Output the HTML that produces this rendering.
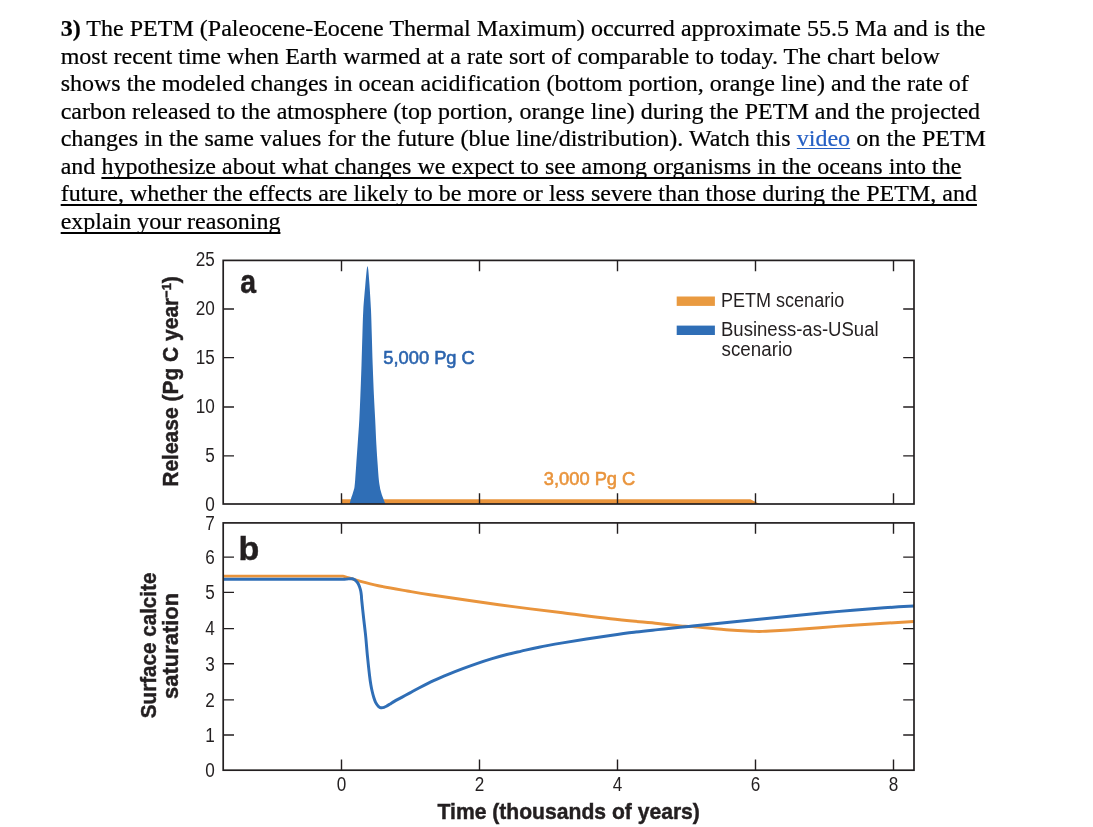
<!DOCTYPE html>
<html><head><meta charset="utf-8"><title>PETM question</title>
<style>
html,body{margin:0;padding:0;background:#fff;}
body{width:1093px;height:827px;position:relative;overflow:hidden;font-family:"Liberation Serif",serif;}
.ln{position:absolute;left:60.7px;white-space:nowrap;-webkit-text-stroke-width:0.22px;font-size:24.0px;line-height:28.0px;height:28.0px;color:#000;}
.u{text-decoration:underline;text-decoration-thickness:1.7px;text-underline-offset:3px;text-decoration-skip-ink:none;}
.lk{color:#2660c4;text-decoration:underline;text-decoration-thickness:1.3px;text-underline-offset:2.3px;text-decoration-skip-ink:none;}
#para{position:absolute;left:0;top:0;width:1093px;height:245px;will-change:transform;}
svg{position:absolute;left:0;top:0;will-change:transform;}
svg text{font-family:"Liberation Sans",sans-serif;fill:#231f20;}
.n{font-size:19.7px;}
.lg{font-size:19.6px;}
.an{font-size:18.8px;font-weight:normal;stroke-width:0.6px;}
.pl{font-size:34px;font-weight:bold;stroke:#231f20;stroke-width:0.5px;}
.at{font-size:22.2px;font-weight:bold;stroke:#231f20;stroke-width:0.45px;}
</style></head>
<body>
<div id="para">
<div class="ln" style="top:14px;word-spacing:0.100px"><b>3)</b> The PETM (Paleocene-Eocene Thermal Maximum) occurred approximate 55.5 Ma and is the</div>
<div class="ln" style="top:42px;word-spacing:0.131px">most recent time when Earth warmed at a rate sort of comparable to today. The chart below</div>
<div class="ln" style="top:69px;word-spacing:-0.014px">shows the modeled changes in ocean acidification (bottom portion, orange line) and the rate of</div>
<div class="ln" style="top:97px;word-spacing:0.029px">carbon released to the atmosphere (top portion, orange line) during the PETM and the projected</div>
<div class="ln" style="top:124px;word-spacing:0.167px">changes in the same values for the future (blue line/distribution). Watch this <span class="lk">video</span> on the PETM</div>
<div class="ln" style="top:152px;word-spacing:0.047px">and <span class="u">hypothesize about what changes we expect to see among organisms in the oceans into the</span></div>
<div class="ln" style="top:179px;word-spacing:0.018px"><span class="u">future, whether the effects are likely to be more or less severe than those during the PETM, and</span></div>
<div class="ln" style="top:207px;word-spacing:-0.100px"><span class="u">explain your reasoning</span></div>
</div>
<svg width="1093" height="827" viewBox="0 0 1093 827">
<path d="M341.5,504.0 L341.5,499.2 L750.4,499.2 L759.5,504.0 Z" fill="#e9943c"/>
<path d="M349.6,504.0 C349.87,503.00 350.72,499.62 351.2,498.0 C351.68,496.38 352.07,495.63 352.5,494.3 C352.93,492.97 353.47,491.22 353.8,490.0 C354.13,488.78 354.27,488.73 354.5,487.0 C354.73,485.27 354.92,483.27 355.2,479.6 C355.48,475.93 355.80,470.77 356.2,465.0 C356.60,459.23 357.08,452.50 357.6,445.0 C358.12,437.50 358.83,428.33 359.3,420.0 C359.77,411.67 360.03,404.17 360.4,395.0 C360.77,385.83 361.17,375.00 361.5,365.0 C361.83,355.00 362.10,344.17 362.4,335.0 C362.70,325.83 362.82,318.33 363.3,310.0 C363.78,301.67 364.73,291.67 365.3,285.0 C365.87,278.33 366.33,273.17 366.7,270.0 C367.07,266.83 367.37,266.67 367.5,266.0 C367.63,266.67 367.97,266.83 368.3,270.0 C368.63,273.17 369.05,278.33 369.5,285.0 C369.95,291.67 370.62,301.67 371.0,310.0 C371.38,318.33 371.52,325.83 371.8,335.0 C372.08,344.17 372.35,355.00 372.7,365.0 C373.05,375.00 373.48,385.83 373.9,395.0 C374.32,404.17 374.78,411.67 375.2,420.0 C375.62,428.33 375.98,437.50 376.4,445.0 C376.82,452.50 377.30,459.23 377.7,465.0 C378.10,470.77 378.43,475.93 378.8,479.6 C379.17,483.27 379.62,485.27 379.9,487.0 C380.18,488.73 380.20,488.78 380.5,490.0 C380.80,491.22 381.27,492.97 381.7,494.3 C382.13,495.63 382.50,496.38 383.1,498.0 C383.70,499.62 384.93,503.00 385.3,504.0 Z" fill="#2f6eb6"/>
<path d="M223.2,576.1 C243.10,576.10 322.70,576.10 342.6,576.1 C343.08,576.22 342.77,576.00 345.5,576.8 C348.23,577.60 353.52,579.42 359.0,580.9 C364.48,582.38 370.33,584.02 378.4,585.7 C386.47,587.38 398.80,589.48 407.4,591.0 C416.00,592.52 419.97,593.27 430.0,594.8 C440.03,596.33 453.42,598.18 467.6,600.2 C481.78,602.22 499.25,604.80 515.1,606.9 C530.95,609.00 546.83,610.82 562.7,612.8 C578.57,614.78 594.43,617.02 610.3,618.8 C626.17,620.58 646.28,622.32 657.9,623.5 C669.52,624.68 674.22,625.38 680.0,625.9 C685.78,626.42 684.35,625.92 692.6,626.6 C700.85,627.28 719.60,629.23 729.5,630.0 C739.40,630.77 747.05,630.95 752.0,631.2 C756.95,631.45 756.87,631.50 759.2,631.5 C761.53,631.50 761.05,631.45 766.0,631.2 C770.95,630.95 777.15,630.80 788.9,630.0 C800.65,629.20 820.63,627.52 836.5,626.4 C852.37,625.28 871.18,624.12 884.1,623.3 C897.02,622.48 909.02,621.80 914.0,621.5" fill="none" stroke="#e9943c" stroke-width="2.95" stroke-linejoin="round"/>
<path d="M223.2,579.3 C243.42,579.30 324.28,579.30 344.5,579.3 C344.92,579.25 346.13,579.10 347.0,579.0 C347.87,578.90 348.80,578.73 349.7,578.7 C350.60,578.67 351.58,578.62 352.4,578.8 C353.22,578.98 353.87,579.32 354.6,579.8 C355.33,580.28 356.15,580.97 356.8,581.7 C357.45,582.43 358.03,583.32 358.5,584.2 C358.97,585.08 359.23,585.90 359.6,587.0 C359.97,588.10 360.40,589.35 360.7,590.8 C361.00,592.25 361.23,594.17 361.4,595.7 C361.57,597.23 361.33,596.28 361.7,600.0 C362.07,603.72 363.05,613.00 363.6,618.0 C364.15,623.00 364.63,626.77 365.0,630.0 C365.37,633.23 365.38,632.95 365.8,637.4 C366.22,641.85 366.87,650.27 367.5,656.7 C368.13,663.13 369.05,671.37 369.6,676.0 C370.15,680.63 370.37,681.92 370.8,684.5 C371.23,687.08 371.70,689.33 372.2,691.5 C372.70,693.67 373.23,695.68 373.8,697.5 C374.37,699.32 374.82,700.88 375.6,702.4 C376.38,703.92 377.72,705.73 378.5,706.6 C379.28,707.47 379.75,707.40 380.3,707.6 C380.85,707.80 381.18,707.85 381.8,707.8 C382.42,707.75 383.23,707.55 384.0,707.3 C384.77,707.05 385.33,706.87 386.4,706.3 C387.47,705.73 389.08,704.72 390.4,703.9 C391.72,703.08 392.33,702.53 394.3,701.4 C396.27,700.27 399.58,698.52 402.2,697.1 C404.82,695.68 407.22,694.42 410.0,692.9 C412.78,691.38 414.97,690.05 418.9,688.0 C422.83,685.95 428.72,682.88 433.6,680.6 C438.48,678.32 443.33,676.30 448.2,674.3 C453.07,672.30 457.92,670.43 462.8,668.6 C467.68,666.77 472.62,664.97 477.5,663.3 C482.38,661.63 487.22,660.07 492.1,658.6 C496.98,657.13 501.92,655.75 506.8,654.5 C511.68,653.25 516.05,652.32 521.4,651.1 C526.75,649.88 532.02,648.57 538.9,647.2 C545.78,645.83 554.77,644.27 562.7,642.9 C570.63,641.53 578.57,640.23 586.5,639.0 C594.43,637.77 602.37,636.62 610.3,635.5 C618.23,634.38 626.17,633.28 634.1,632.3 C642.03,631.32 650.25,630.45 657.9,629.6 C665.55,628.75 674.22,627.80 680.0,627.2 C685.78,626.60 684.35,626.82 692.6,626.0 C700.85,625.18 713.45,623.93 729.5,622.3 C745.55,620.67 771.07,617.98 788.9,616.2 C806.73,614.42 820.63,613.00 836.5,611.6 C852.37,610.20 871.18,608.73 884.1,607.8 C897.02,606.87 909.02,606.30 914.0,606.0" fill="none" stroke="#2f6eb6" stroke-width="2.95" stroke-linejoin="round"/>
<rect x="223.2" y="260.4" width="690.8" height="243.6" fill="none" stroke="#231f20" stroke-width="1.7"/>
<rect x="223.2" y="522.9" width="690.8" height="247.3" fill="none" stroke="#231f20" stroke-width="1.7"/>
<path d="M341.5,260.4V271.2M341.5,504.0V493.2M341.5,522.9V533.7M341.5,770.2V759.4M479.5,260.4V271.2M479.5,504.0V493.2M479.5,522.9V533.7M479.5,770.2V759.4M617.5,260.4V271.2M617.5,504.0V493.2M617.5,522.9V533.7M617.5,770.2V759.4M755.5,260.4V271.2M755.5,504.0V493.2M755.5,522.9V533.7M755.5,770.2V759.4M893.5,260.4V271.2M893.5,504.0V493.2M893.5,522.9V533.7M893.5,770.2V759.4M223.2,455.9H234.0M914.0,455.9H903.2M223.2,407.0H234.0M914.0,407.0H903.2M223.2,357.6H234.0M914.0,357.6H903.2M223.2,309.0H234.0M914.0,309.0H903.2M223.2,735.0H234.0M914.0,735.0H903.2M223.2,699.9H234.0M914.0,699.9H903.2M223.2,663.8H234.0M914.0,663.8H903.2M223.2,628.6H234.0M914.0,628.6H903.2M223.2,592.4H234.0M914.0,592.4H903.2M223.2,557.1H234.0M914.0,557.1H903.2" stroke="#231f20" stroke-width="1.4" fill="none"/>
<rect x="676.7" y="296.5" width="38.2" height="9.4" fill="#e99a40"/>
<rect x="676.7" y="325.6" width="38.2" height="9.4" fill="#2f6eb6"/>
<text transform="translate(214.9,510.9) scale(0.87,1)" text-anchor="end" class="n">0</text>
<text transform="translate(214.9,461.9) scale(0.87,1)" text-anchor="end" class="n">5</text>
<text transform="translate(214.9,413.1) scale(0.87,1)" text-anchor="end" class="n">10</text>
<text transform="translate(214.9,364.2) scale(0.87,1)" text-anchor="end" class="n">15</text>
<text transform="translate(214.9,315.2) scale(0.87,1)" text-anchor="end" class="n">20</text>
<text transform="translate(214.9,266.4) scale(0.87,1)" text-anchor="end" class="n">25</text>
<text transform="translate(214.9,777.0) scale(0.87,1)" text-anchor="end" class="n">0</text>
<text transform="translate(214.9,741.8) scale(0.87,1)" text-anchor="end" class="n">1</text>
<text transform="translate(214.9,706.7) scale(0.87,1)" text-anchor="end" class="n">2</text>
<text transform="translate(214.9,670.6) scale(0.87,1)" text-anchor="end" class="n">3</text>
<text transform="translate(214.9,635.4) scale(0.87,1)" text-anchor="end" class="n">4</text>
<text transform="translate(214.9,599.2) scale(0.87,1)" text-anchor="end" class="n">5</text>
<text transform="translate(214.9,563.9) scale(0.87,1)" text-anchor="end" class="n">6</text>
<text transform="translate(214.9,529.7) scale(0.87,1)" text-anchor="end" class="n">7</text>
<text transform="translate(341.6,790.7) scale(0.87,1)" text-anchor="middle" class="n">0</text>
<text transform="translate(479.6,790.7) scale(0.87,1)" text-anchor="middle" class="n">2</text>
<text transform="translate(617.6,790.7) scale(0.87,1)" text-anchor="middle" class="n">4</text>
<text transform="translate(755.6,790.7) scale(0.87,1)" text-anchor="middle" class="n">6</text>
<text transform="translate(893.6,790.7) scale(0.87,1)" text-anchor="middle" class="n">8</text>
<text x="721.0" y="307" class="n lg" textLength="123.2" lengthAdjust="spacingAndGlyphs">PETM scenario</text>
<text x="721.0" y="336" class="n lg" textLength="157.6" lengthAdjust="spacingAndGlyphs">Business-as-USual</text>
<text x="721.6" y="356" class="n lg" textLength="70.9" lengthAdjust="spacingAndGlyphs">scenario</text>
<text x="383.3" y="364.3" class="an" style="fill:#2b64ae;stroke:#2b64ae" textLength="91.5" lengthAdjust="spacingAndGlyphs">5,000 Pg C</text>
<text x="543.8" y="484.6" class="an" style="fill:#e9943c;stroke:#e9943c" textLength="91.5" lengthAdjust="spacingAndGlyphs">3,000 Pg C</text>
<text x="240.3" y="293.0" class="pl" textLength="15.8" lengthAdjust="spacingAndGlyphs">a</text>
<text x="238.4" y="559.7" class="pl" textLength="20.8" lengthAdjust="spacingAndGlyphs">b</text>
<text x="437.5" y="818.9" class="at" textLength="262.4" lengthAdjust="spacingAndGlyphs">Time (thousands of years)</text>
<text transform="translate(178.0,486.7) rotate(-90)" class="at" textLength="210.5" lengthAdjust="spacingAndGlyphs">Release (Pg C year<tspan dy="-7.5" font-size="13.5">−1</tspan><tspan dy="7.5">)</tspan></text>
<text transform="translate(155.7,718.2) rotate(-90)" class="at" textLength="145.6" lengthAdjust="spacingAndGlyphs">Surface calcite</text>
<text transform="translate(178.3,698.9) rotate(-90)" class="at" textLength="106" lengthAdjust="spacingAndGlyphs">saturation</text>
</svg>
</body></html>
